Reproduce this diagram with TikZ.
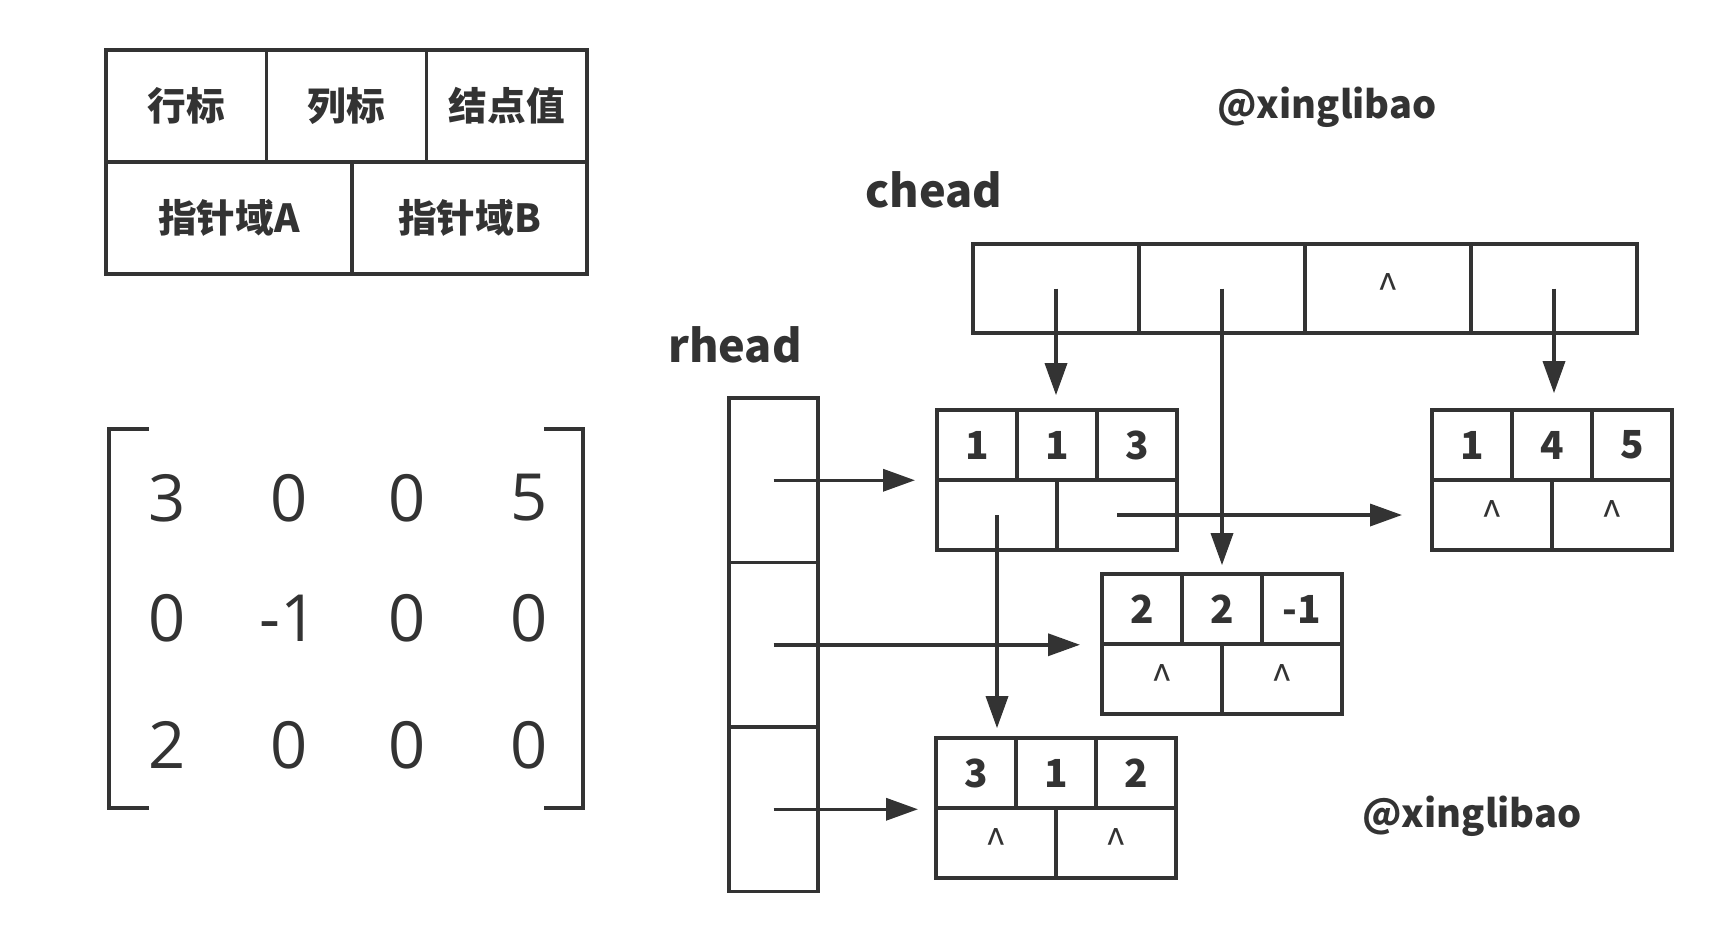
\documentclass[tikz,border=0pt]{standalone}
\usepackage{fontspec}
\usetikzlibrary{arrows.meta}
\newfontfamily\cjk{Noto Sans CJK SC}
\newfontfamily\numfont{Open Sans}
\definecolor{lineGray}{RGB}{51,51,51}

\tikzset{
  cellbox/.style={draw=lineGray, line width=1.05pt, inner sep=0pt, text=lineGray,
    font=\cjk\bfseries\fontsize{11}{13}\selectfont},
  topcell/.style={cellbox, minimum width=0.8cm, minimum height=0.7cm},
  botcell/.style={cellbox, minimum width=1.2cm, minimum height=0.7cm},
  ptr/.style={draw=lineGray, line width=1pt, -{Triangle[length=3.2mm,width=2.2mm]}},
  lbl/.style={text=lineGray, inner sep=0pt, anchor=base, font=\cjk\bfseries\fontsize{12.8}{15}\selectfont},
  wmark/.style={lbl, font=\cjk\bfseries\fontsize{10.8}{13}\selectfont},
  entry/.style={text=lineGray, inner sep=0pt, font=\numfont\fontsize{18.5}{22}\selectfont},
}

% null pointer
\newcommand{\nul}{{\mdseries\textasciicircum}}
% one list node: name, left, top, row, col, value, pointer A, pointer B
\newcommand{\olnode}[8]{%
  \node[topcell] (#1-r) at (#2+0.4,#3+0.35) {#4};
  \node[topcell] (#1-c) at (#2+1.2,#3+0.35) {#5};
  \node[topcell] (#1-v) at (#2+2.0,#3+0.35) {#6};
  \node[botcell] (#1-a) at (#2+0.6,#3+1.05) {#7};
  \node[botcell] (#1-b) at (#2+1.8,#3+1.05) {#8};
  \coordinate (#1-w) at (#2,#3+0.7);
}

\begin{document}
\begin{tikzpicture}[x=1cm, y=-1cm]
\useasboundingbox (0,0) rectangle (17.2,9.4);

% legend of one node
\node[cellbox, minimum width=1.603cm, minimum height=1.12cm] (lg-r) at (1.862,1.06) {行标};
\node[cellbox, minimum width=1.603cm, minimum height=1.12cm] (lg-c) at (3.465,1.06) {列标};
\node[cellbox, minimum width=1.603cm, minimum height=1.12cm] (lg-v) at (5.068,1.06) {结点值};
\node[cellbox, minimum width=2.46cm, minimum height=1.12cm] (lg-a) at (2.29,2.18) {指针域A};
\node[cellbox, minimum width=2.35cm, minimum height=1.12cm] (lg-b) at (4.695,2.18) {指针域B};

% sparse matrix
\draw[lineGray, line width=1.3pt] (1.49,4.29) -- (1.09,4.29) -- (1.09,8.08) -- (1.49,8.08);
\draw[lineGray, line width=1.3pt] (5.44,4.29) -- (5.83,4.29) -- (5.83,8.08) -- (5.44,8.08);
\foreach \x/\v [count=\c] in {1.67/3, 2.89/0, 4.07/0, 5.29/5}
  \node[entry] (m1\c) at (\x,4.98) {\v};
\foreach \x/\v [count=\c] in {1.67/0, 2.89/-1, 4.07/0, 5.29/0}
  \node[entry] (m2\c) at (\x,6.18) {\v};
\foreach \x/\v [count=\c] in {1.67/2, 2.89/0, 4.07/0, 5.29/0}
  \node[entry] (m3\c) at (\x,7.45) {\v};

% head arrays
\node[lbl] (chead) at (9.34,2.07) {chead};
\node[lbl] (rhead) at (7.35,3.62) {rhead};
\foreach \i/\t in {1/{},2/{},3/\nul,4/{}}
  \node[cellbox, minimum width=1.66cm, minimum height=0.89cm] (ch\i) at (9.73+1.66*\i-0.83,2.885) {\t};
\foreach \i in {1,2,3}
  \node[cellbox, minimum width=0.89cm, minimum height=1.645cm] (rh\i) at (7.735,3.98+1.645*\i-0.8225) {};

% list nodes
\olnode{n113}{9.37}{4.10}{1}{1}{3}{}{}
\olnode{n145}{14.32}{4.10}{1}{4}{5}{\nul}{\nul}
\olnode{n221}{11.02}{5.74}{2}{2}{-1}{\nul}{\nul}
\olnode{n312}{9.36}{7.38}{3}{1}{2}{\nul}{\nul}

% pointers
\draw[ptr, shorten >=1.3mm] (ch1.center) -- (ch1.center |- n113-c.north);
\draw[ptr, shorten >=0.7mm] (ch2.center) -- (ch2.center |- n221-c.north);
\draw[ptr, shorten >=1.5mm] (ch4.center) -- (ch4.center |- n145-c.north);
\draw[ptr, shorten >=2.2mm] (rh1.center) -- (rh1.center -| n113-w);
\draw[ptr, shorten >=2.2mm] (rh2.center) -- (rh2.center -| n221-w);
\draw[ptr, shorten >=1.8mm] (rh3.center) -- (rh3.center -| n312-w);
\draw[ptr, shorten >=3mm] (n113-b.center) -- (n113-b.center -| n145-w);
\draw[ptr, shorten >=0.8mm] (n113-a.center) -- (n113-a.center |- n312-r.north);

% watermarks
\node[wmark] (wm1) at (13.27,1.18) {@xinglibao};
\node[wmark] (wm2) at (14.72,8.27) {@xinglibao};
\end{tikzpicture}
\end{document}
